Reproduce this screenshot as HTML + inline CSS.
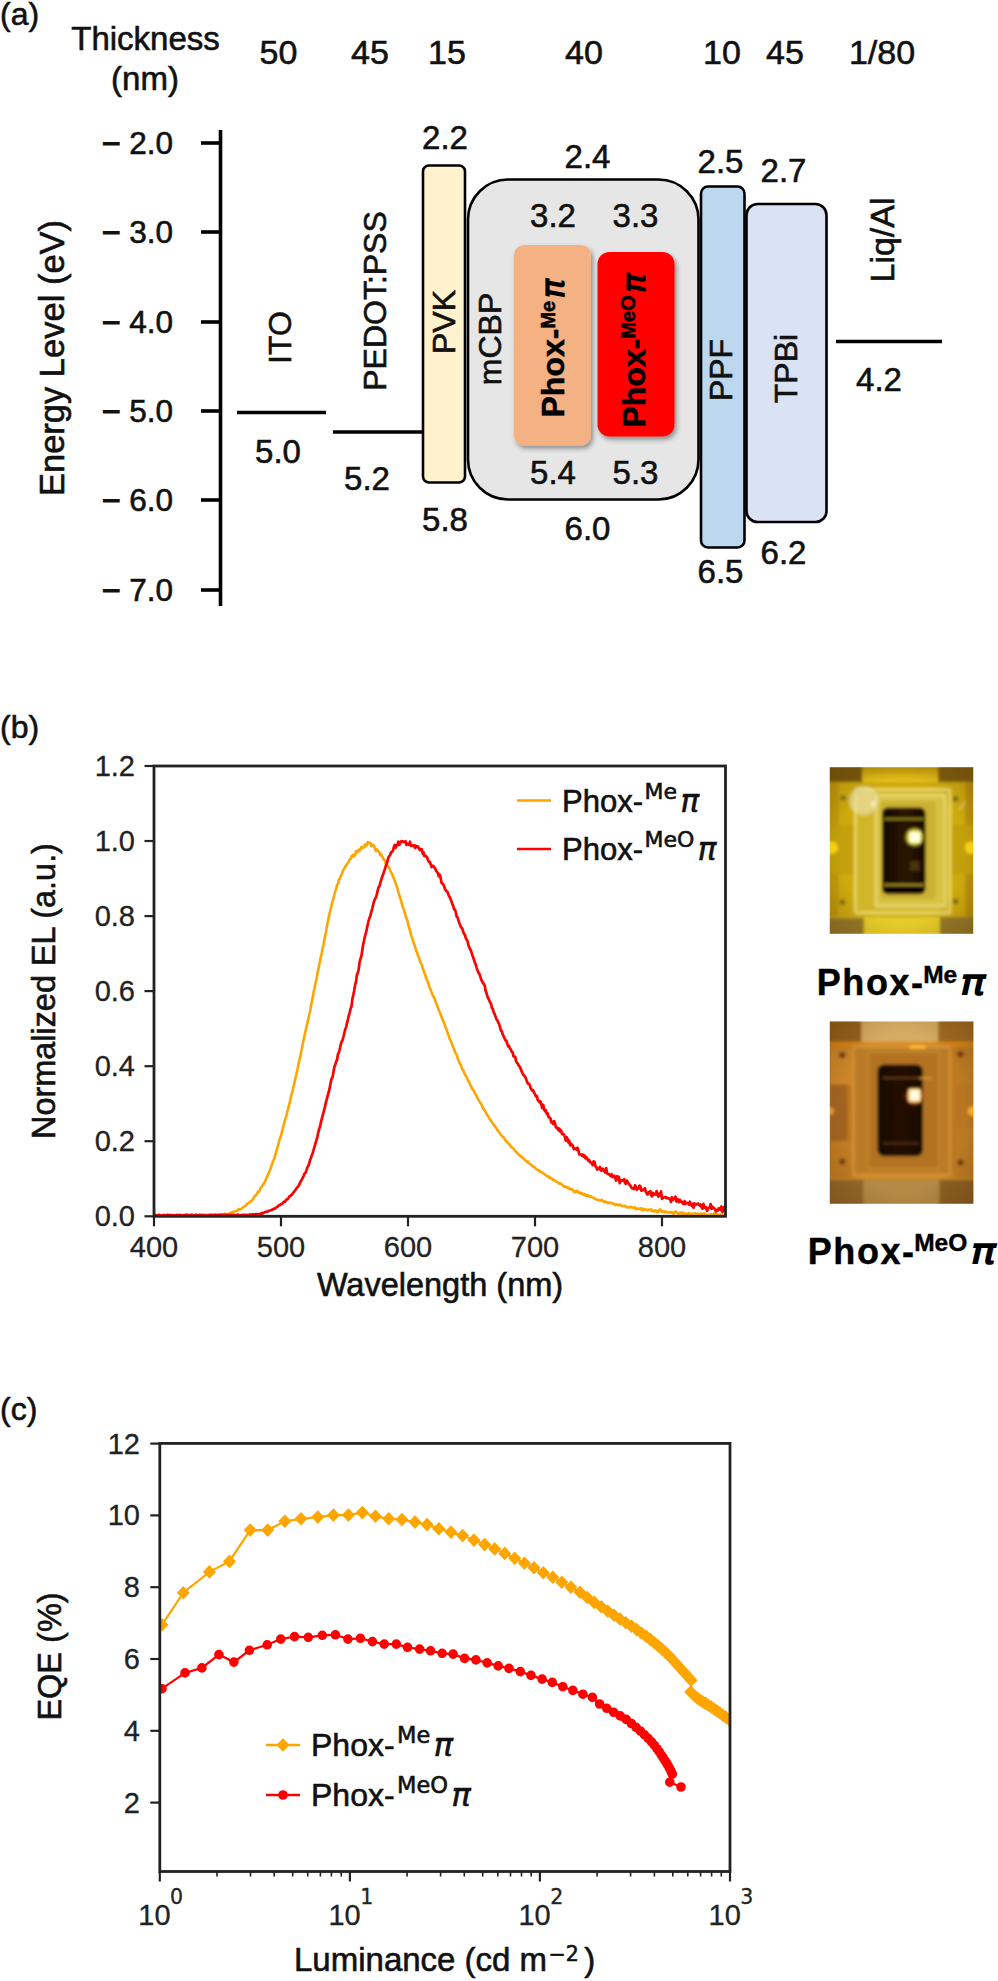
<!DOCTYPE html>
<html lang="en"><head><meta charset="utf-8"><title>Figure</title>
<style>html,body{margin:0;padding:0;background:#fff}svg{display:block}text{font-family:"Liberation Sans",Arial,sans-serif;fill:#111;stroke:#111;stroke-width:0.6px}.dj{font-family:"DejaVu Sans",sans-serif}.pi{font-family:"DejaVu Sans",sans-serif;font-style:italic}.b{font-weight:bold}.tk{stroke-width:0.3px;fill:#222;stroke:#222}</style></head><body>
<svg width="998" height="1981" viewBox="0 0 998 1981">
<defs><filter id="sh" x="-20%" y="-10%" width="150%" height="125%"><feGaussianBlur in="SourceAlpha" stdDeviation="2.5"/><feOffset dx="2" dy="2.5"/><feComponentTransfer><feFuncA type="linear" slope="0.4"/></feComponentTransfer><feMerge><feMergeNode/><feMergeNode in="SourceGraphic"/></feMerge></filter><filter id="bl1" x="-10%" y="-10%" width="120%" height="120%"><feGaussianBlur stdDeviation="1.5"/></filter><filter id="bl2" x="-30%" y="-30%" width="160%" height="160%"><feGaussianBlur stdDeviation="2.5"/></filter><filter id="soft"><feGaussianBlur stdDeviation="0.5"/></filter></defs>
<rect width="998" height="1981" fill="#fff"/>
<text x="0" y="24.5" font-size="32" text-anchor="start">(a)</text>
<text x="145.5" y="50" font-size="33" text-anchor="middle">Thickness</text>
<text x="145" y="90" font-size="33" text-anchor="middle">(nm)</text>
<text x="278.5" y="64" font-size="34" text-anchor="middle">50</text>
<text x="370" y="64" font-size="34" text-anchor="middle">45</text>
<text x="447" y="64" font-size="34" text-anchor="middle">15</text>
<text x="584" y="64" font-size="34" text-anchor="middle">40</text>
<text x="722" y="64" font-size="34" text-anchor="middle">10</text>
<text x="785" y="64" font-size="34" text-anchor="middle">45</text>
<text x="882" y="64" font-size="34" text-anchor="middle">1/80</text>
<g stroke="#000" stroke-width="3.6" fill="none">
<line x1="220.5" y1="130" x2="220.5" y2="606"/>
<line x1="201" y1="143" x2="220" y2="143"/>
<line x1="201" y1="232" x2="220" y2="232"/>
<line x1="201" y1="322" x2="220" y2="322"/>
<line x1="201" y1="411" x2="220" y2="411"/>
<line x1="201" y1="500" x2="220" y2="500"/>
<line x1="201" y1="590" x2="220" y2="590"/>
<line x1="237" y1="412.5" x2="326" y2="412.5"/>
<line x1="333" y1="432" x2="423" y2="432"/>
<line x1="836" y1="341.5" x2="942" y2="341.5"/>
</g>
<text x="173" y="154" font-size="31.5" text-anchor="end"><tspan style="stroke-width:1.5px">−</tspan> 2.0</text>
<text x="173" y="243" font-size="31.5" text-anchor="end"><tspan style="stroke-width:1.5px">−</tspan> 3.0</text>
<text x="173" y="333" font-size="31.5" text-anchor="end"><tspan style="stroke-width:1.5px">−</tspan> 4.0</text>
<text x="173" y="422" font-size="31.5" text-anchor="end"><tspan style="stroke-width:1.5px">−</tspan> 5.0</text>
<text x="173" y="511" font-size="31.5" text-anchor="end"><tspan style="stroke-width:1.5px">−</tspan> 6.0</text>
<text x="173" y="601" font-size="31.5" text-anchor="end"><tspan style="stroke-width:1.5px">−</tspan> 7.0</text>
<text transform="translate(64 358) rotate(-90)" font-size="34.5" text-anchor="middle">Energy Level (eV)</text>
<g stroke="#000" stroke-width="2.6">
<rect x="468" y="179.5" width="230.5" height="320" rx="40" fill="#e7e6e6"/>
<rect x="423" y="165.5" width="42" height="317" rx="6" fill="#fff2cc"/>
<rect x="701" y="186.5" width="43.5" height="361" rx="7" fill="#bdd7ee"/>
<rect x="746.5" y="204" width="80" height="318" rx="11" fill="#dae3f3"/>
</g>
<rect x="514" y="245" width="77" height="200.5" rx="10" fill="#f4b183" filter="url(#sh)"/>
<rect x="597.5" y="252" width="77" height="184.5" rx="12" fill="#ff0000" filter="url(#sh)"/>
<text x="445" y="148.5" font-size="33" text-anchor="middle">2.2</text>
<text x="587.5" y="168" font-size="33" text-anchor="middle">2.4</text>
<text x="720.5" y="172.5" font-size="33" text-anchor="middle">2.5</text>
<text x="783.5" y="181.5" font-size="33" text-anchor="middle">2.7</text>
<text x="553" y="226.5" font-size="33" text-anchor="middle">3.2</text>
<text x="635.5" y="226.5" font-size="33" text-anchor="middle">3.3</text>
<text x="553" y="484" font-size="33" text-anchor="middle">5.4</text>
<text x="635.5" y="484" font-size="33" text-anchor="middle">5.3</text>
<text x="587.5" y="539.5" font-size="33" text-anchor="middle">6.0</text>
<text x="445" y="530.5" font-size="33" text-anchor="middle">5.8</text>
<text x="720.5" y="583" font-size="33" text-anchor="middle">6.5</text>
<text x="783.5" y="563.5" font-size="33" text-anchor="middle">6.2</text>
<text x="278" y="463" font-size="33" text-anchor="middle">5.0</text>
<text x="367" y="489.5" font-size="33" text-anchor="middle">5.2</text>
<text x="879" y="391" font-size="33" text-anchor="middle">4.2</text>
<text transform="translate(291 337.5) rotate(-90)" font-size="32" text-anchor="middle">ITO</text>
<text transform="translate(386 301) rotate(-90)" font-size="32" text-anchor="middle">PEDOT:PSS</text>
<text transform="translate(455 322) rotate(-90)" font-size="32" text-anchor="middle">PVK</text>
<text transform="translate(501 339) rotate(-90)" font-size="32" text-anchor="middle">mCBP</text>
<text transform="translate(732 370) rotate(-90)" font-size="32" text-anchor="middle">PPF</text>
<text transform="translate(797 368.5) rotate(-90)" font-size="32" text-anchor="middle">TPBi</text>
<text transform="translate(893.5 240) rotate(-90)" font-size="34" text-anchor="middle">Liq/Al</text>
<text transform="translate(564 417.5) rotate(-90)" font-size="32" class="b" style="fill:#000;stroke:#000;stroke-width:0.5px">Phox-<tspan font-size="20" dy="-9.5">Me</tspan><tspan class="pi" font-size="32" dy="9.5" dx="2.5" style="font-weight:normal;stroke-width:1.3px">π</tspan></text>
<text transform="translate(644.5 427.5) rotate(-90)" font-size="32" class="b" style="fill:#000;stroke:#000;stroke-width:0.5px">Phox-<tspan font-size="20" dy="-9.5">MeO</tspan><tspan class="pi" font-size="32" dy="9.5" dx="2.5" style="font-weight:normal;stroke-width:1.3px">π</tspan></text>
<text x="0" y="737.5" font-size="32" text-anchor="start">(b)</text>
<clipPath id="cb"><rect x="154" y="766" width="571.5" height="451.29999999999995"/></clipPath>
<path d="M153.5 1215.7 L154.4 1214.4 L155.3 1215.4 L156.2 1215.1 L157.1 1215.1 L158.0 1215.2 L158.9 1214.6 L159.8 1215.2 L160.7 1215.0 L161.6 1215.7 L162.5 1215.4 L163.4 1215.2 L164.3 1215.2 L165.2 1215.1 L166.1 1214.9 L167.0 1215.2 L167.9 1215.5 L168.8 1215.2 L169.7 1215.6 L170.6 1215.2 L171.5 1215.3 L172.4 1215.7 L173.3 1215.5 L174.2 1215.1 L175.1 1215.2 L176.0 1215.5 L176.9 1215.7 L177.8 1215.2 L178.7 1215.2 L179.6 1215.6 L180.5 1215.0 L181.4 1215.2 L182.3 1215.6 L183.2 1215.5 L184.1 1215.3 L185.0 1215.5 L185.9 1214.3 L186.8 1215.6 L187.7 1214.9 L188.6 1214.7 L189.5 1215.3 L190.4 1215.5 L191.3 1215.1 L192.2 1214.9 L193.1 1215.2 L194.0 1215.2 L194.9 1215.7 L195.8 1215.5 L196.7 1215.3 L197.6 1215.6 L198.5 1215.1 L199.4 1214.9 L200.3 1215.4 L201.2 1215.4 L202.1 1215.1 L203.0 1214.9 L203.9 1215.2 L204.8 1214.3 L205.7 1215.4 L206.6 1215.3 L207.5 1214.5 L208.4 1215.1 L209.3 1214.7 L210.2 1215.3 L211.1 1214.3 L212.0 1214.6 L212.9 1215.2 L213.8 1215.3 L214.7 1214.1 L215.6 1214.6 L216.5 1214.9 L217.4 1214.5 L218.3 1215.2 L219.2 1214.2 L220.1 1214.7 L221.0 1214.1 L221.9 1214.9 L222.8 1214.4 L223.7 1214.2 L224.6 1213.6 L225.5 1214.7 L226.4 1214.3 L227.3 1214.2 L228.2 1214.1 L229.1 1213.6 L230.0 1213.0 L230.9 1212.7 L231.8 1212.4 L232.7 1212.8 L233.6 1211.5 L234.5 1211.5 L235.4 1211.2 L236.3 1211.0 L237.2 1210.8 L238.1 1209.7 L239.0 1209.1 L239.9 1209.3 L240.8 1209.2 L241.7 1208.5 L242.6 1207.7 L243.5 1206.9 L244.4 1206.5 L245.3 1205.6 L246.2 1205.3 L247.1 1203.9 L248.0 1203.5 L248.9 1202.6 L249.8 1202.1 L250.7 1201.1 L251.6 1201.1 L252.5 1199.8 L253.4 1198.8 L254.3 1196.5 L255.2 1196.0 L256.1 1194.8 L257.0 1194.0 L257.9 1191.8 L258.8 1191.7 L259.7 1190.4 L260.6 1188.2 L261.5 1186.9 L262.4 1185.5 L263.3 1184.2 L264.2 1182.8 L265.1 1181.5 L266.0 1178.9 L266.9 1177.2 L267.8 1175.0 L268.7 1173.4 L269.6 1170.9 L270.5 1168.8 L271.4 1165.6 L272.3 1163.5 L273.2 1160.8 L274.1 1159.0 L275.0 1155.9 L275.9 1152.6 L276.8 1149.5 L277.7 1146.7 L278.6 1143.2 L279.5 1139.9 L280.4 1137.3 L281.3 1134.8 L282.2 1130.6 L283.1 1127.3 L284.0 1123.8 L284.9 1120.4 L285.8 1117.6 L286.7 1114.3 L287.6 1110.6 L288.5 1107.2 L289.4 1103.6 L290.3 1100.1 L291.2 1095.9 L292.1 1092.6 L293.0 1089.1 L293.9 1084.9 L294.8 1081.1 L295.7 1077.0 L296.6 1073.0 L297.5 1069.3 L298.4 1064.6 L299.3 1060.5 L300.2 1056.6 L301.1 1052.3 L302.0 1048.3 L302.9 1042.7 L303.8 1039.4 L304.7 1034.7 L305.6 1030.7 L306.5 1026.9 L307.4 1023.1 L308.3 1019.1 L309.2 1014.7 L310.1 1011.0 L311.0 1005.9 L311.9 1001.2 L312.8 996.8 L313.7 991.6 L314.6 988.1 L315.5 983.3 L316.4 979.3 L317.3 974.2 L318.2 969.8 L319.1 965.7 L320.0 961.5 L320.9 956.7 L321.8 952.6 L322.7 948.0 L323.6 944.2 L324.5 938.9 L325.4 935.1 L326.3 929.9 L327.2 925.0 L328.1 920.4 L329.0 915.7 L329.9 912.0 L330.8 908.5 L331.7 904.5 L332.6 901.2 L333.5 898.3 L334.4 894.5 L335.3 891.5 L336.2 888.4 L337.1 885.0 L338.0 883.6 L338.9 879.7 L339.8 878.7 L340.7 876.0 L341.6 874.7 L342.5 872.0 L343.4 869.7 L344.3 868.8 L345.2 866.6 L346.1 865.4 L347.0 864.2 L347.9 862.7 L348.8 861.4 L349.7 859.6 L350.6 859.0 L351.5 856.0 L352.4 856.8 L353.3 854.7 L354.2 856.1 L355.1 855.4 L356.0 851.0 L356.9 852.5 L357.8 851.5 L358.7 849.7 L359.6 851.0 L360.5 849.1 L361.4 846.9 L362.3 848.1 L363.2 847.6 L364.1 847.1 L365.0 844.5 L365.9 845.9 L366.8 845.2 L367.7 842.2 L368.6 842.5 L369.5 843.1 L370.4 842.9 L371.3 846.2 L372.2 845.2 L373.1 844.8 L374.0 846.0 L374.9 847.8 L375.8 851.1 L376.7 849.3 L377.6 850.4 L378.5 851.6 L379.4 852.1 L380.3 855.2 L381.2 854.0 L382.1 856.6 L383.0 857.7 L383.9 859.7 L384.8 860.1 L385.7 863.8 L386.6 864.0 L387.5 865.6 L388.4 866.5 L389.3 868.1 L390.2 870.4 L391.1 872.3 L392.0 874.0 L392.9 876.3 L393.8 878.3 L394.7 880.4 L395.6 883.4 L396.5 885.9 L397.4 888.3 L398.3 891.7 L399.2 895.0 L400.1 897.7 L401.0 900.5 L401.9 903.8 L402.8 907.1 L403.7 909.2 L404.6 912.0 L405.5 914.9 L406.4 918.3 L407.3 920.2 L408.2 924.1 L409.1 927.7 L410.0 930.2 L410.9 934.3 L411.8 937.1 L412.7 939.7 L413.6 942.8 L414.5 944.9 L415.4 947.8 L416.3 951.2 L417.2 952.7 L418.1 956.1 L419.0 957.9 L419.9 960.7 L420.8 962.9 L421.7 964.6 L422.6 967.8 L423.5 970.6 L424.4 972.7 L425.3 975.2 L426.2 978.3 L427.1 980.4 L428.0 982.4 L428.9 985.1 L429.8 987.9 L430.7 989.7 L431.6 992.4 L432.5 994.8 L433.4 996.4 L434.3 998.2 L435.2 1000.3 L436.1 1003.0 L437.0 1005.6 L437.9 1007.7 L438.8 1010.1 L439.7 1012.0 L440.6 1014.6 L441.5 1016.6 L442.4 1019.0 L443.3 1021.0 L444.2 1023.2 L445.1 1025.9 L446.0 1028.1 L446.9 1030.5 L447.8 1033.4 L448.7 1035.5 L449.6 1038.9 L450.5 1040.5 L451.4 1042.2 L452.3 1045.0 L453.2 1047.2 L454.1 1049.1 L455.0 1052.0 L455.9 1053.6 L456.8 1055.1 L457.7 1058.6 L458.6 1060.3 L459.5 1063.1 L460.4 1064.3 L461.3 1066.1 L462.2 1069.0 L463.1 1069.9 L464.0 1072.2 L464.9 1074.5 L465.8 1075.8 L466.7 1077.6 L467.6 1079.4 L468.5 1081.4 L469.4 1082.6 L470.3 1084.8 L471.2 1086.5 L472.1 1088.8 L473.0 1089.6 L473.9 1091.0 L474.8 1093.2 L475.7 1094.5 L476.6 1096.4 L477.5 1098.0 L478.4 1100.0 L479.3 1101.0 L480.2 1102.8 L481.1 1103.6 L482.0 1105.8 L482.9 1108.3 L483.8 1109.1 L484.7 1110.6 L485.6 1111.9 L486.5 1114.0 L487.4 1115.3 L488.3 1116.2 L489.2 1118.3 L490.1 1119.5 L491.0 1121.0 L491.9 1121.9 L492.8 1124.0 L493.7 1124.8 L494.6 1125.9 L495.5 1127.0 L496.4 1128.4 L497.3 1130.0 L498.2 1130.8 L499.1 1132.5 L500.0 1133.5 L500.9 1134.9 L501.8 1135.9 L502.7 1136.8 L503.6 1137.2 L504.5 1139.1 L505.4 1140.4 L506.3 1141.2 L507.2 1142.4 L508.1 1143.0 L509.0 1144.1 L509.9 1144.8 L510.8 1146.6 L511.7 1147.2 L512.6 1147.9 L513.5 1148.5 L514.4 1149.8 L515.3 1151.3 L516.2 1151.8 L517.1 1152.3 L518.0 1153.9 L518.9 1154.7 L519.8 1155.4 L520.7 1156.2 L521.6 1157.1 L522.5 1157.7 L523.4 1158.6 L524.3 1158.8 L525.2 1160.4 L526.1 1160.7 L527.0 1162.1 L527.9 1161.4 L528.8 1163.1 L529.7 1163.9 L530.6 1164.2 L531.5 1165.2 L532.4 1166.0 L533.3 1166.6 L534.2 1166.9 L535.1 1167.7 L536.0 1168.8 L536.9 1169.5 L537.8 1169.8 L538.7 1170.4 L539.6 1171.1 L540.5 1172.0 L541.4 1171.9 L542.3 1172.4 L543.2 1173.5 L544.1 1173.7 L545.0 1174.5 L545.9 1175.3 L546.8 1176.0 L547.7 1176.1 L548.6 1177.3 L549.5 1176.9 L550.4 1178.3 L551.3 1178.1 L552.2 1178.8 L553.1 1180.0 L554.0 1180.1 L554.9 1180.5 L555.8 1181.1 L556.7 1182.0 L557.6 1182.3 L558.5 1182.8 L559.4 1183.7 L560.3 1183.3 L561.2 1184.0 L562.1 1184.4 L563.0 1185.9 L563.9 1186.2 L564.8 1186.9 L565.7 1186.5 L566.6 1186.9 L567.5 1188.0 L568.4 1187.6 L569.3 1188.8 L570.2 1189.2 L571.1 1188.8 L572.0 1189.5 L572.9 1189.9 L573.8 1191.5 L574.7 1192.4 L575.6 1191.2 L576.5 1191.6 L577.4 1190.6 L578.3 1192.5 L579.2 1192.8 L580.1 1192.5 L581.0 1193.9 L581.9 1192.9 L582.8 1194.0 L583.7 1194.6 L584.6 1194.1 L585.5 1195.7 L586.4 1196.1 L587.3 1194.9 L588.2 1195.2 L589.1 1196.7 L590.0 1196.7 L590.9 1196.3 L591.8 1197.1 L592.7 1197.5 L593.6 1197.8 L594.5 1198.6 L595.4 1198.7 L596.3 1199.8 L597.2 1199.8 L598.1 1199.7 L599.0 1200.2 L599.9 1200.6 L600.8 1200.5 L601.7 1199.7 L602.6 1201.2 L603.5 1201.0 L604.4 1202.2 L605.3 1201.5 L606.2 1202.0 L607.1 1202.2 L608.0 1203.2 L608.9 1202.6 L609.8 1202.5 L610.7 1203.1 L611.6 1202.9 L612.5 1203.5 L613.4 1203.6 L614.3 1204.0 L615.2 1205.3 L616.1 1204.1 L617.0 1204.6 L617.9 1204.7 L618.8 1205.4 L619.7 1204.5 L620.6 1205.0 L621.5 1205.6 L622.4 1206.1 L623.3 1206.0 L624.2 1205.9 L625.1 1205.8 L626.0 1206.8 L626.9 1207.5 L627.8 1207.0 L628.7 1207.1 L629.6 1207.4 L630.5 1206.7 L631.4 1207.3 L632.3 1207.4 L633.2 1207.9 L634.1 1207.9 L635.0 1207.3 L635.9 1208.8 L636.8 1209.3 L637.7 1208.3 L638.6 1208.8 L639.5 1208.9 L640.4 1209.3 L641.3 1208.1 L642.2 1210.1 L643.1 1208.9 L644.0 1210.1 L644.9 1209.5 L645.8 1209.4 L646.7 1209.7 L647.6 1210.4 L648.5 1209.5 L649.4 1209.9 L650.3 1209.9 L651.2 1209.3 L652.1 1211.2 L653.0 1210.9 L653.9 1210.6 L654.8 1211.5 L655.7 1210.3 L656.6 1210.9 L657.5 1212.1 L658.4 1211.7 L659.3 1209.9 L660.2 1209.3 L661.1 1210.8 L662.0 1212.1 L662.9 1211.3 L663.8 1211.6 L664.7 1212.1 L665.6 1211.3 L666.5 1212.1 L667.4 1212.5 L668.3 1212.4 L669.2 1212.4 L670.1 1211.9 L671.0 1212.6 L671.9 1212.1 L672.8 1213.2 L673.7 1214.1 L674.6 1212.1 L675.5 1211.4 L676.4 1212.5 L677.3 1213.0 L678.2 1213.5 L679.1 1213.6 L680.0 1212.5 L680.9 1212.6 L681.8 1213.9 L682.7 1212.5 L683.6 1213.9 L684.5 1213.1 L685.4 1213.8 L686.3 1213.8 L687.2 1213.9 L688.1 1214.0 L689.0 1212.9 L689.9 1213.8 L690.8 1213.7 L691.7 1213.9 L692.6 1214.5 L693.5 1213.6 L694.4 1213.4 L695.3 1213.5 L696.2 1213.8 L697.1 1214.5 L698.0 1213.6 L698.9 1214.8 L699.8 1214.3 L700.7 1214.1 L701.6 1213.4 L702.5 1214.4 L703.4 1214.7 L704.3 1213.3 L705.2 1215.1 L706.1 1215.4 L707.0 1214.6 L707.9 1214.8 L708.8 1215.7 L709.7 1215.3 L710.6 1214.0 L711.5 1214.6 L712.4 1214.5 L713.3 1214.6 L714.2 1213.3 L715.1 1215.1 L716.0 1214.3 L716.9 1214.8 L717.8 1214.7 L718.7 1215.3 L719.6 1214.6 L720.5 1214.3 L721.4 1215.2 L722.3 1215.7 L723.2 1214.7 L724.1 1215.7 L725.0 1215.1" fill="none" stroke="#ffa500" stroke-width="2.6" stroke-linejoin="round" clip-path="url(#cb)"/>
<path d="M153.5 1215.1 L154.4 1214.9 L155.3 1215.2 L156.2 1215.4 L157.1 1215.6 L158.0 1215.3 L158.9 1215.1 L159.8 1215.1 L160.7 1215.5 L161.6 1215.7 L162.5 1215.4 L163.4 1214.9 L164.3 1215.0 L165.2 1215.7 L166.1 1215.4 L167.0 1214.8 L167.9 1215.3 L168.8 1214.9 L169.7 1215.1 L170.6 1215.2 L171.5 1215.1 L172.4 1215.5 L173.3 1215.3 L174.2 1215.1 L175.1 1215.4 L176.0 1215.5 L176.9 1214.8 L177.8 1215.2 L178.7 1215.0 L179.6 1215.2 L180.5 1214.9 L181.4 1215.3 L182.3 1215.3 L183.2 1215.2 L184.1 1215.0 L185.0 1215.2 L185.9 1215.0 L186.8 1214.9 L187.7 1215.4 L188.6 1215.0 L189.5 1215.6 L190.4 1215.5 L191.3 1214.7 L192.2 1215.4 L193.1 1215.0 L194.0 1215.3 L194.9 1215.3 L195.8 1214.7 L196.7 1215.2 L197.6 1215.2 L198.5 1215.6 L199.4 1214.9 L200.3 1215.5 L201.2 1214.9 L202.1 1215.2 L203.0 1215.0 L203.9 1215.7 L204.8 1215.4 L205.7 1215.7 L206.6 1215.5 L207.5 1215.5 L208.4 1215.5 L209.3 1215.1 L210.2 1215.2 L211.1 1215.7 L212.0 1215.1 L212.9 1215.3 L213.8 1215.2 L214.7 1215.4 L215.6 1215.1 L216.5 1215.2 L217.4 1215.3 L218.3 1215.3 L219.2 1215.0 L220.1 1215.5 L221.0 1214.8 L221.9 1214.9 L222.8 1214.8 L223.7 1215.5 L224.6 1215.1 L225.5 1214.9 L226.4 1214.9 L227.3 1215.3 L228.2 1214.9 L229.1 1214.8 L230.0 1215.4 L230.9 1214.9 L231.8 1215.1 L232.7 1215.2 L233.6 1215.1 L234.5 1215.2 L235.4 1215.6 L236.3 1215.0 L237.2 1214.8 L238.1 1214.6 L239.0 1215.1 L239.9 1215.0 L240.8 1215.2 L241.7 1215.0 L242.6 1214.9 L243.5 1214.8 L244.4 1214.8 L245.3 1215.0 L246.2 1214.8 L247.1 1214.9 L248.0 1215.4 L248.9 1214.9 L249.8 1214.3 L250.7 1215.2 L251.6 1214.7 L252.5 1214.3 L253.4 1214.8 L254.3 1214.5 L255.2 1214.2 L256.1 1214.1 L257.0 1214.0 L257.9 1214.2 L258.8 1214.4 L259.7 1213.8 L260.6 1213.9 L261.5 1214.1 L262.4 1212.9 L263.3 1213.1 L264.2 1212.6 L265.1 1212.0 L266.0 1211.7 L266.9 1211.7 L267.8 1211.5 L268.7 1210.8 L269.6 1210.6 L270.5 1210.5 L271.4 1209.9 L272.3 1209.7 L273.2 1209.1 L274.1 1208.7 L275.0 1208.6 L275.9 1207.7 L276.8 1207.0 L277.7 1206.6 L278.6 1205.5 L279.5 1205.1 L280.4 1204.8 L281.3 1204.1 L282.2 1203.7 L283.1 1202.6 L284.0 1201.5 L284.9 1201.8 L285.8 1200.7 L286.7 1199.3 L287.6 1199.2 L288.5 1197.9 L289.4 1196.5 L290.3 1196.0 L291.2 1195.0 L292.1 1194.6 L293.0 1192.9 L293.9 1192.0 L294.8 1190.8 L295.7 1189.6 L296.6 1188.2 L297.5 1187.2 L298.4 1186.1 L299.3 1184.4 L300.2 1182.4 L301.1 1180.7 L302.0 1179.4 L302.9 1177.3 L303.8 1175.5 L304.7 1173.4 L305.6 1172.5 L306.5 1170.2 L307.4 1167.4 L308.3 1165.7 L309.2 1163.4 L310.1 1159.8 L311.0 1157.8 L311.9 1155.1 L312.8 1152.7 L313.7 1149.5 L314.6 1146.4 L315.5 1143.2 L316.4 1140.4 L317.3 1137.1 L318.2 1132.8 L319.1 1129.2 L320.0 1126.8 L320.9 1122.2 L321.8 1118.9 L322.7 1115.5 L323.6 1112.1 L324.5 1108.7 L325.4 1104.9 L326.3 1100.9 L327.2 1097.7 L328.1 1094.1 L329.0 1090.9 L329.9 1086.7 L330.8 1081.9 L331.7 1078.5 L332.6 1077.1 L333.5 1071.7 L334.4 1066.7 L335.3 1064.6 L336.2 1061.7 L337.1 1059.4 L338.0 1054.1 L338.9 1052.3 L339.8 1049.2 L340.7 1044.6 L341.6 1041.8 L342.5 1040.3 L343.4 1037.0 L344.3 1033.0 L345.2 1029.5 L346.1 1027.1 L347.0 1022.9 L347.9 1019.6 L348.8 1015.5 L349.7 1012.6 L350.6 1008.5 L351.5 1006.4 L352.4 998.6 L353.3 995.0 L354.2 990.5 L355.1 984.9 L356.0 982.0 L356.9 974.9 L357.8 972.9 L358.7 969.4 L359.6 962.1 L360.5 958.7 L361.4 956.0 L362.3 950.0 L363.2 944.5 L364.1 940.5 L365.0 936.1 L365.9 933.2 L366.8 929.1 L367.7 924.7 L368.6 920.7 L369.5 917.8 L370.4 915.7 L371.3 911.6 L372.2 908.8 L373.1 905.1 L374.0 901.2 L374.9 899.1 L375.8 897.8 L376.7 894.6 L377.6 890.9 L378.5 887.4 L379.4 886.3 L380.3 882.9 L381.2 880.0 L382.1 877.1 L383.0 874.8 L383.9 871.8 L384.8 869.4 L385.7 866.3 L386.6 864.0 L387.5 861.0 L388.4 857.7 L389.3 856.0 L390.2 854.8 L391.1 852.2 L392.0 851.6 L392.9 850.9 L393.8 847.3 L394.7 844.9 L395.6 847.7 L396.5 845.2 L397.4 845.2 L398.3 841.7 L399.2 844.9 L400.1 843.1 L401.0 841.5 L401.9 841.1 L402.8 841.8 L403.7 841.7 L404.6 841.9 L405.5 841.1 L406.4 844.9 L407.3 843.6 L408.2 844.2 L409.1 844.7 L410.0 841.7 L410.9 846.0 L411.8 845.2 L412.7 845.5 L413.6 846.3 L414.5 845.1 L415.4 848.0 L416.3 846.2 L417.2 846.3 L418.1 846.8 L419.0 848.7 L419.9 850.1 L420.8 849.2 L421.7 849.1 L422.6 853.6 L423.5 852.1 L424.4 856.2 L425.3 855.8 L426.2 856.2 L427.1 857.5 L428.0 860.0 L428.9 861.8 L429.8 861.8 L430.7 864.4 L431.6 867.0 L432.5 865.7 L433.4 866.0 L434.3 867.5 L435.2 868.5 L436.1 870.8 L437.0 872.1 L437.9 873.0 L438.8 876.4 L439.7 874.7 L440.6 877.7 L441.5 882.7 L442.4 883.4 L443.3 884.6 L444.2 886.4 L445.1 889.5 L446.0 890.2 L446.9 891.7 L447.8 892.4 L448.7 895.5 L449.6 896.9 L450.5 899.0 L451.4 901.2 L452.3 904.0 L453.2 905.9 L454.1 909.3 L455.0 909.5 L455.9 912.8 L456.8 917.0 L457.7 917.6 L458.6 921.0 L459.5 923.4 L460.4 925.9 L461.3 927.7 L462.2 928.2 L463.1 931.5 L464.0 933.7 L464.9 934.9 L465.8 938.1 L466.7 939.6 L467.6 941.5 L468.5 945.5 L469.4 947.6 L470.3 949.3 L471.2 951.5 L472.1 954.4 L473.0 957.0 L473.9 959.5 L474.8 962.3 L475.7 964.5 L476.6 967.7 L477.5 970.2 L478.4 972.4 L479.3 973.8 L480.2 976.2 L481.1 979.3 L482.0 981.0 L482.9 983.4 L483.8 983.5 L484.7 985.6 L485.6 990.7 L486.5 993.0 L487.4 996.4 L488.3 998.3 L489.2 1000.3 L490.1 1002.5 L491.0 1003.6 L491.9 1008.0 L492.8 1008.9 L493.7 1012.2 L494.6 1014.1 L495.5 1016.4 L496.4 1019.2 L497.3 1020.1 L498.2 1022.4 L499.1 1024.1 L500.0 1026.7 L500.9 1030.7 L501.8 1031.0 L502.7 1034.5 L503.6 1036.2 L504.5 1038.2 L505.4 1040.2 L506.3 1040.5 L507.2 1043.6 L508.1 1046.4 L509.0 1046.0 L509.9 1048.3 L510.8 1049.3 L511.7 1051.9 L512.6 1052.3 L513.5 1056.4 L514.4 1056.3 L515.3 1057.0 L516.2 1061.7 L517.1 1062.8 L518.0 1064.1 L518.9 1065.9 L519.8 1066.8 L520.7 1068.7 L521.6 1071.2 L522.5 1073.1 L523.4 1074.8 L524.3 1075.8 L525.2 1076.9 L526.1 1078.8 L527.0 1081.6 L527.9 1083.6 L528.8 1083.6 L529.7 1085.0 L530.6 1088.2 L531.5 1089.3 L532.4 1090.8 L533.3 1090.5 L534.2 1092.9 L535.1 1094.2 L536.0 1096.4 L536.9 1096.1 L537.8 1100.2 L538.7 1100.7 L539.6 1102.3 L540.5 1101.4 L541.4 1104.6 L542.3 1108.2 L543.2 1104.9 L544.1 1109.2 L545.0 1111.2 L545.9 1110.3 L546.8 1114.0 L547.7 1113.5 L548.6 1117.3 L549.5 1117.4 L550.4 1118.3 L551.3 1122.4 L552.2 1121.8 L553.1 1123.8 L554.0 1121.1 L554.9 1123.2 L555.8 1126.8 L556.7 1128.2 L557.6 1127.8 L558.5 1130.3 L559.4 1128.6 L560.3 1131.7 L561.2 1130.6 L562.1 1134.1 L563.0 1133.8 L563.9 1134.6 L564.8 1136.8 L565.7 1140.6 L566.6 1137.1 L567.5 1138.7 L568.4 1142.4 L569.3 1140.9 L570.2 1145.4 L571.1 1143.9 L572.0 1144.6 L572.9 1146.0 L573.8 1149.2 L574.7 1148.4 L575.6 1149.1 L576.5 1149.6 L577.4 1147.7 L578.3 1149.7 L579.2 1154.4 L580.1 1154.2 L581.0 1154.6 L581.9 1155.6 L582.8 1154.5 L583.7 1156.7 L584.6 1155.5 L585.5 1158.3 L586.4 1157.3 L587.3 1158.8 L588.2 1160.5 L589.1 1160.0 L590.0 1162.2 L590.9 1162.6 L591.8 1163.1 L592.7 1165.2 L593.6 1161.4 L594.5 1161.9 L595.4 1166.1 L596.3 1167.2 L597.2 1169.6 L598.1 1168.3 L599.0 1169.0 L599.9 1166.9 L600.8 1170.2 L601.7 1170.7 L602.6 1168.6 L603.5 1169.5 L604.4 1171.3 L605.3 1172.6 L606.2 1168.0 L607.1 1173.3 L608.0 1174.1 L608.9 1174.0 L609.8 1175.2 L610.7 1176.0 L611.6 1174.2 L612.5 1177.0 L613.4 1176.4 L614.3 1175.7 L615.2 1178.1 L616.1 1180.6 L617.0 1176.3 L617.9 1176.5 L618.8 1177.0 L619.7 1183.2 L620.6 1180.1 L621.5 1180.9 L622.4 1180.2 L623.3 1180.5 L624.2 1179.2 L625.1 1183.2 L626.0 1183.8 L626.9 1180.6 L627.8 1182.5 L628.7 1183.4 L629.6 1185.0 L630.5 1185.8 L631.4 1187.6 L632.3 1188.4 L633.2 1188.2 L634.1 1189.0 L635.0 1185.3 L635.9 1186.7 L636.8 1189.7 L637.7 1188.7 L638.6 1188.6 L639.5 1185.7 L640.4 1186.2 L641.3 1190.7 L642.2 1190.4 L643.1 1189.7 L644.0 1189.9 L644.9 1188.1 L645.8 1191.8 L646.7 1193.2 L647.6 1194.5 L648.5 1192.3 L649.4 1192.2 L650.3 1191.1 L651.2 1195.2 L652.1 1196.3 L653.0 1192.9 L653.9 1194.6 L654.8 1194.6 L655.7 1193.9 L656.6 1191.1 L657.5 1194.8 L658.4 1196.7 L659.3 1193.7 L660.2 1195.0 L661.1 1191.3 L662.0 1198.9 L662.9 1198.0 L663.8 1197.5 L664.7 1197.3 L665.6 1196.9 L666.5 1198.1 L667.4 1197.9 L668.3 1198.3 L669.2 1198.8 L670.1 1199.3 L671.0 1201.8 L671.9 1197.2 L672.8 1200.2 L673.7 1199.0 L674.6 1198.4 L675.5 1196.6 L676.4 1201.6 L677.3 1199.3 L678.2 1199.8 L679.1 1202.0 L680.0 1199.7 L680.9 1201.7 L681.8 1201.7 L682.7 1203.3 L683.6 1203.9 L684.5 1201.1 L685.4 1204.1 L686.3 1202.7 L687.2 1203.2 L688.1 1202.9 L689.0 1204.7 L689.9 1201.7 L690.8 1204.2 L691.7 1205.9 L692.6 1203.8 L693.5 1207.6 L694.4 1203.4 L695.3 1205.1 L696.2 1204.2 L697.1 1204.2 L698.0 1203.5 L698.9 1204.6 L699.8 1205.6 L700.7 1204.5 L701.6 1207.4 L702.5 1208.6 L703.4 1203.9 L704.3 1207.8 L705.2 1207.0 L706.1 1207.2 L707.0 1210.9 L707.9 1209.1 L708.8 1207.8 L709.7 1207.7 L710.6 1204.1 L711.5 1208.9 L712.4 1206.6 L713.3 1208.2 L714.2 1208.2 L715.1 1209.7 L716.0 1211.5 L716.9 1209.9 L717.8 1210.5 L718.7 1208.2 L719.6 1209.3 L720.5 1209.9 L721.4 1206.5 L722.3 1212.1 L723.2 1207.8 L724.1 1207.0 L725.0 1211.7" fill="none" stroke="#ff0000" stroke-width="2.7" stroke-linejoin="round" clip-path="url(#cb)"/>
<g stroke="#222" fill="none">
<rect x="154" y="766" width="571.5" height="450.29999999999995" stroke-width="2.8"/>
<g stroke-width="2.2">
<line x1="144.5" y1="1216.3" x2="154" y2="1216.3"/>
<line x1="144.5" y1="1141.2" x2="154" y2="1141.2"/>
<line x1="144.5" y1="1066.2" x2="154" y2="1066.2"/>
<line x1="144.5" y1="991.1" x2="154" y2="991.1"/>
<line x1="144.5" y1="916.1" x2="154" y2="916.1"/>
<line x1="144.5" y1="841.0" x2="154" y2="841.0"/>
<line x1="144.5" y1="766.0" x2="154" y2="766.0"/>
<line x1="154.0" y1="1216.3" x2="154.0" y2="1226.3"/>
<line x1="281.0" y1="1216.3" x2="281.0" y2="1226.3"/>
<line x1="408.0" y1="1216.3" x2="408.0" y2="1226.3"/>
<line x1="535.0" y1="1216.3" x2="535.0" y2="1226.3"/>
<line x1="662.0" y1="1216.3" x2="662.0" y2="1226.3"/>
</g></g>
<text x="135" y="1226.3" font-size="29" text-anchor="end" class="tk">0.0</text>
<text x="135" y="1151.2" font-size="29" text-anchor="end" class="tk">0.2</text>
<text x="135" y="1076.2" font-size="29" text-anchor="end" class="tk">0.4</text>
<text x="135" y="1001.1" font-size="29" text-anchor="end" class="tk">0.6</text>
<text x="135" y="926.1" font-size="29" text-anchor="end" class="tk">0.8</text>
<text x="135" y="851.0" font-size="29" text-anchor="end" class="tk">1.0</text>
<text x="135" y="776.0" font-size="29" text-anchor="end" class="tk">1.2</text>
<text x="154.0" y="1256.5" font-size="29" text-anchor="middle" class="tk">400</text>
<text x="281.0" y="1256.5" font-size="29" text-anchor="middle" class="tk">500</text>
<text x="408.0" y="1256.5" font-size="29" text-anchor="middle" class="tk">600</text>
<text x="535.0" y="1256.5" font-size="29" text-anchor="middle" class="tk">700</text>
<text x="662.0" y="1256.5" font-size="29" text-anchor="middle" class="tk">800</text>
<text x="440" y="1295.5" font-size="32.5" text-anchor="middle">Wavelength (nm)</text>
<text transform="translate(54.5 991) rotate(-90)" font-size="32.4" text-anchor="middle">Normalized EL (a.u.)</text>
<line x1="517" y1="800.5" x2="551" y2="800.5" stroke="#ffa500" stroke-width="2.4"/>
<line x1="517" y1="849" x2="551" y2="849" stroke="#ff0000" stroke-width="2.4"/>
<text x="562" y="811.5" font-size="31">Phox-<tspan class="dj" font-size="22.0" dy="-12.7" dx="1.5">Me</tspan><tspan class="pi" font-size="31" dy="12.7" dx="3.5">π</tspan></text>
<text x="562" y="860" font-size="31">Phox-<tspan class="dj" font-size="22.0" dy="-12.7" dx="1.5">MeO</tspan><tspan class="pi" font-size="31" dy="12.7" dx="3.5">π</tspan></text>
<defs><linearGradient id="p1top" x1="0" y1="0" x2="0" y2="1"><stop offset="0" stop-color="#b48a06"/><stop offset="1" stop-color="#e6c41c"/></linearGradient><linearGradient id="p1dev" x1="0" y1="0" x2="1" y2="0"><stop offset="0" stop-color="#120803"/><stop offset="0.55" stop-color="#2c1606"/><stop offset="1" stop-color="#170a03"/></linearGradient><radialGradient id="p1spot"><stop offset="0" stop-color="#ffffd8"/><stop offset="0.35" stop-color="#fdfb7a"/><stop offset="0.7" stop-color="#d8d018" stop-opacity="0.85"/><stop offset="1" stop-color="#8a7a08" stop-opacity="0"/></radialGradient><radialGradient id="vig1" cx="0.5" cy="0.5" r="0.75"><stop offset="0.55" stop-color="#5a3c00" stop-opacity="0"/><stop offset="1" stop-color="#5a3c00" stop-opacity="0.38"/></radialGradient><clipPath id="p1c"><rect x="829.8" y="767.3" width="143.4" height="166.4"/></clipPath></defs>
<g clip-path="url(#p1c)"><g filter="url(#bl1)">
<rect x="826.6" y="763.3" width="150.5" height="174.4" rx="0.0" fill="#caa40c"/>
<rect x="826.6" y="763.3" width="150.5" height="19.0" rx="0.0" fill="url(#p1top)"/>
<rect x="826.6" y="763.3" width="35.5" height="19.0" rx="0.0" fill="#76560c"/>
<rect x="938.2" y="763.3" width="38.9" height="19.0" rx="0.0" fill="#7a5a0e"/>
<rect x="826.6" y="917.1" width="150.5" height="20.7" rx="0.0" fill="#e6cc2c"/>
<rect x="826.6" y="917.9" width="37.2" height="19.8" rx="0.0" fill="#94782a"/>
<rect x="939.9" y="917.1" width="37.2" height="20.7" rx="0.0" fill="#94782a"/>
<rect x="834.1" y="782.3" width="134.8" height="134.8" rx="0.0" fill="#ceaa10"/>
<rect x="829.9" y="782.3" width="8.3" height="134.8" rx="0.0" fill="#c09a0a"/>
<rect x="965.5" y="782.3" width="11.6" height="134.8" rx="0.0" fill="#b89208"/>
<rect x="829.9" y="824.5" width="25.6" height="49.6" rx="0.0" fill="#c4a00e"/>
<rect x="950.6" y="824.5" width="26.5" height="49.6" rx="0.0" fill="#c4a00e"/>
<circle cx="831.6" cy="847.6" r="6.3" fill="#ffd814"/>
<circle cx="971.3" cy="847.6" r="6.3" fill="#ffd814"/>
<rect x="853.9" y="788.1" width="97.6" height="126.5" rx="2.3" fill="#e8d660"/>
<rect x="856.7" y="791.1" width="91.9" height="120.2" rx="1.7" fill="#d2b62c"/>
<rect x="874.6" y="793.9" width="71.4" height="113.6" rx="1.7" fill="#e6d66c"/>
<rect x="877.0" y="796.7" width="66.6" height="108.1" rx="1.3" fill="#d8c244"/>
<rect x="880.8" y="801.3" width="54.9" height="97.9" rx="1.3" fill="#ccb230"/>
<circle cx="863.8" cy="800.5" r="14.6" fill="#efe6b4" opacity="0.6"/>
<circle cx="861.3" cy="801.3" r="9.1" fill="#e6d68c" opacity="0.35"/>
<circle cx="872.9" cy="803.8" r="2.3" fill="#fff8d0" opacity="0.8"/>
<circle cx="843.1" cy="798.0" r="3.3" fill="#a88c14"/>
<circle cx="843.1" cy="798.0" r="1.8" fill="#6e5810"/>
<circle cx="955.6" cy="798.9" r="3.3" fill="#a88c14"/>
<circle cx="955.6" cy="798.9" r="1.8" fill="#6e5810"/>
<circle cx="842.3" cy="902.2" r="3.3" fill="#a88c14"/>
<circle cx="842.3" cy="902.2" r="1.8" fill="#6e5810"/>
<circle cx="955.6" cy="901.4" r="3.3" fill="#a88c14"/>
<circle cx="955.6" cy="901.4" r="1.8" fill="#6e5810"/>
<line x1="959.7" y1="809.6" x2="965.5" y2="801.3" stroke="#fff3a0" stroke-width="1" opacity="0.8"/>
<rect x="882.0" y="807.6" width="43.5" height="86.6" rx="5.6" fill="url(#p1dev)"/>
<rect x="883.7" y="817.9" width="40.8" height="2.6" rx="0.0" fill="#8a7a18"/>
<rect x="883.7" y="883.7" width="40.8" height="2.6" rx="0.0" fill="#9a8a1c"/>
<rect x="883.7" y="820.5" width="40.8" height="2.3" rx="0.0" fill="#0c0502"/>
<rect x="883.7" y="886.3" width="40.8" height="6.0" rx="1.7" fill="#0c0502"/>
<rect x="910.1" y="860.9" width="9.1" height="9.9" rx="0.0" fill="#4a300c"/>
<circle cx="914.6" cy="837.1" r="10.6" fill="url(#p1spot)"/>
<rect x="909.0" y="831.4" width="11.6" height="11.6" rx="1.0" fill="#ffffa8"/>
<rect x="910.6" y="833.1" width="8.6" height="8.3" rx="0.7" fill="#ffffe6"/>
</g><rect x="826.6" y="763.3" width="150.5" height="174.4" rx="0.0" fill="url(#vig1)"/></g>
<defs><linearGradient id="p2dev" x1="0" y1="0" x2="1" y2="0"><stop offset="0" stop-color="#140703"/><stop offset="0.5" stop-color="#241006"/><stop offset="1" stop-color="#160803"/></linearGradient><radialGradient id="p2spot"><stop offset="0" stop-color="#fffbe0"/><stop offset="0.35" stop-color="#ffd060"/><stop offset="0.7" stop-color="#e06a10" stop-opacity="0.8"/><stop offset="1" stop-color="#7a2006" stop-opacity="0"/></radialGradient><linearGradient id="p2plate" x1="0" y1="0" x2="0" y2="1"><stop offset="0" stop-color="#e08c10"/><stop offset="0.06" stop-color="#c47a18"/><stop offset="0.9" stop-color="#b87420"/><stop offset="1" stop-color="#d08a20"/></linearGradient><radialGradient id="vig2" cx="0.5" cy="0.5" r="0.75"><stop offset="0.55" stop-color="#4a2400" stop-opacity="0"/><stop offset="1" stop-color="#4a2400" stop-opacity="0.35"/></radialGradient><clipPath id="p2c"><rect x="829.8" y="1021.5" width="143.6" height="182.3"/></clipPath></defs>
<g clip-path="url(#p2c)"><g filter="url(#bl1)">
<rect x="826.6" y="1017.0" width="152.1" height="191.8" rx="0.0" fill="#ae6e1e"/>
<rect x="826.6" y="1017.0" width="152.1" height="25.6" rx="0.0" fill="#d6ac64"/>
<rect x="826.6" y="1017.0" width="34.7" height="25.6" rx="0.0" fill="#94621c"/>
<rect x="938.2" y="1017.0" width="40.5" height="25.6" rx="0.0" fill="#a06c20"/>
<rect x="826.6" y="1179.0" width="152.1" height="29.8" rx="0.0" fill="#b48a44"/>
<rect x="826.6" y="1179.8" width="36.7" height="28.9" rx="0.0" fill="#94682a"/>
<rect x="939.4" y="1179.8" width="39.4" height="28.9" rx="0.0" fill="#8c6024"/>
<rect x="826.6" y="1041.8" width="152.1" height="137.6" rx="0.0" fill="url(#p2plate)"/>
<rect x="829.9" y="1047.5" width="21.5" height="37.2" rx="0.0" fill="#cc862c"/>
<rect x="829.9" y="1084.8" width="17.4" height="56.2" rx="0.0" fill="#a06422"/>
<rect x="829.9" y="1141.0" width="21.5" height="36.4" rx="0.0" fill="#c07c24"/>
<rect x="953.9" y="1047.5" width="24.8" height="129.8" rx="0.0" fill="#bc7a22"/>
<rect x="955.6" y="1084.8" width="23.1" height="43.0" rx="0.0" fill="#b87420"/>
<circle cx="972.9" cy="1111.2" r="5.0" fill="#ffb028"/>
<circle cx="830.3" cy="1111.2" r="3.6" fill="#f0a030"/>
<rect x="851.7" y="1045.1" width="99.7" height="131.4" rx="2.0" fill="#d29236"/>
<rect x="854.7" y="1048.4" width="93.9" height="124.8" rx="1.7" fill="#ba7a26"/>
<rect x="867.1" y="1050.9" width="72.8" height="119.0" rx="1.7" fill="#c0822c"/>
<rect x="869.6" y="1053.3" width="68.1" height="114.1" rx="1.3" fill="#b27222"/>
<rect x="909.3" y="1045.1" width="16.5" height="3.6" rx="1.3" fill="#ffb838"/>
<circle cx="842.3" cy="1055.0" r="3.6" fill="#94551a"/>
<circle cx="842.3" cy="1055.0" r="2.0" fill="#5c300c"/>
<circle cx="960.5" cy="1054.2" r="3.6" fill="#94551a"/>
<circle cx="960.5" cy="1054.2" r="2.0" fill="#5c300c"/>
<circle cx="842.3" cy="1161.6" r="3.6" fill="#94551a"/>
<circle cx="842.3" cy="1161.6" r="2.0" fill="#5c300c"/>
<circle cx="960.5" cy="1162.5" r="3.6" fill="#94551a"/>
<circle cx="960.5" cy="1162.5" r="2.0" fill="#5c300c"/>
<rect x="877.5" y="1064.6" width="45.3" height="91.6" rx="6.3" fill="url(#p2dev)"/>
<rect x="882.8" y="1076.8" width="36.4" height="2.3" rx="0.0" fill="#5a3414"/>
<rect x="882.8" y="1142.3" width="36.4" height="2.3" rx="0.0" fill="#4a2a10"/>
<rect x="919.2" y="1077.3" width="13.2" height="1.7" rx="0.0" fill="#d89838"/>
<circle cx="914.6" cy="1096.0" r="10.3" fill="url(#p2spot)"/>
<rect x="908.6" y="1089.1" width="11.9" height="12.6" rx="1.0" fill="#ffe890"/>
<rect x="910.3" y="1090.7" width="8.9" height="9.3" rx="0.7" fill="#fffbe4"/>
</g><rect x="826.6" y="1017.0" width="152.1" height="191.8" rx="0.0" fill="url(#vig2)"/></g>
<text x="816.7" y="995.2" font-size="36" class="b" style="fill:#000;stroke:#000;stroke-width:0.4px;letter-spacing:1.6px">Phox-<tspan font-size="24.5" dy="-12.5" dx="-1.5" style="letter-spacing:0">Me</tspan></text>
<text transform="translate(960.5 995.2) scale(1.14 1)" font-size="36" class="pi" style="fill:#000;stroke:#000;stroke-width:1.5px">π</text>
<text x="807.7" y="1263.7" font-size="36" class="b" style="fill:#000;stroke:#000;stroke-width:0.4px;letter-spacing:1.6px">Phox-<tspan font-size="24.5" dy="-12.5" dx="-1.5" style="letter-spacing:0">MeO</tspan></text>
<text transform="translate(971 1263.7) scale(1.14 1)" font-size="36" class="pi" style="fill:#000;stroke:#000;stroke-width:1.5px">π</text>
<text x="0" y="1419.5" font-size="32" text-anchor="start">(c)</text>
<clipPath id="cc"><rect x="159.8" y="1443.4" width="570.2" height="428.0999999999999"/></clipPath>
<g clip-path="url(#cc)" fill="#ffa500">
<path d="M162.0 1624.8 L183.3 1592.7 L209.4 1571.9 L229.4 1561.4 L250.2 1530.1 L267.7 1530.1 L284.8 1521.3 L301.0 1518.8 L317.8 1517.1 L333.4 1515.1 L348.4 1515.1 L362.4 1512.6 L375.5 1516.3 L388.7 1518.8 L402.0 1519.6 L415.0 1522.1 L427.1 1524.6 L438.8 1528.8 L450.9 1532.1 L462.6 1535.6 L473.9 1540.1 L484.7 1544.6 L494.7 1548.9 L504.7 1553.4 L514.7 1558.2 L524.5 1563.2 L534.0 1567.7 L543.3 1572.7 L552.8 1577.2 L561.8 1582.2 L570.9 1587.2 L579.9 1592.2 L587.2 1597.5 L594.3 1602.4 L601.2 1606.8 L607.7 1611.1 L614.0 1615.2 L620.0 1619.1 L625.8 1622.7 L631.4 1626.1 L636.6 1629.6 L641.4 1633.0 L646.1 1636.3 L650.4 1639.6 L654.4 1642.8 L658.3 1646.0 L661.9 1649.1 L665.2 1652.1 L668.3 1655.1 L671.2 1658.1 L673.9 1661.0 L676.4 1663.7 L678.8 1666.4 L681.1 1668.9 L683.3 1671.4 L685.4 1673.7 L687.4 1676.0 L689.3 1678.1 L691.1 1680.2 L690.7 1692.0 L692.8 1694.1 L695.1 1696.2 L697.5 1698.2 L700.0 1700.0 L702.7 1701.7 L705.6 1703.4 L708.4 1705.2 L711.3 1707.0 L714.1 1709.0 L717.0 1711.0 L720.0 1713.0 L722.9 1715.2 L725.9 1717.3 L729.0 1719.5 L732.2 1721.7 L735.3 1724.0" fill="none" stroke="#ffa500" stroke-width="2.2"/>
<path d="M162.0 1618.0l6.5 6.8l-6.5 6.8l-6.5 -6.8zM183.3 1585.9l6.5 6.8l-6.5 6.8l-6.5 -6.8zM209.4 1565.1l6.5 6.8l-6.5 6.8l-6.5 -6.8zM229.4 1554.6l6.5 6.8l-6.5 6.8l-6.5 -6.8zM250.2 1523.3l6.5 6.8l-6.5 6.8l-6.5 -6.8zM267.7 1523.3l6.5 6.8l-6.5 6.8l-6.5 -6.8zM284.8 1514.5l6.5 6.8l-6.5 6.8l-6.5 -6.8zM301.0 1512.0l6.5 6.8l-6.5 6.8l-6.5 -6.8zM317.8 1510.3l6.5 6.8l-6.5 6.8l-6.5 -6.8zM333.4 1508.3l6.5 6.8l-6.5 6.8l-6.5 -6.8zM348.4 1508.3l6.5 6.8l-6.5 6.8l-6.5 -6.8zM362.4 1505.8l6.5 6.8l-6.5 6.8l-6.5 -6.8zM375.5 1509.5l6.5 6.8l-6.5 6.8l-6.5 -6.8zM388.7 1512.0l6.5 6.8l-6.5 6.8l-6.5 -6.8zM402.0 1512.8l6.5 6.8l-6.5 6.8l-6.5 -6.8zM415.0 1515.3l6.5 6.8l-6.5 6.8l-6.5 -6.8zM427.1 1517.8l6.5 6.8l-6.5 6.8l-6.5 -6.8zM438.8 1522.0l6.5 6.8l-6.5 6.8l-6.5 -6.8zM450.9 1525.3l6.5 6.8l-6.5 6.8l-6.5 -6.8zM462.6 1528.8l6.5 6.8l-6.5 6.8l-6.5 -6.8zM473.9 1533.3l6.5 6.8l-6.5 6.8l-6.5 -6.8zM484.7 1537.8l6.5 6.8l-6.5 6.8l-6.5 -6.8zM494.7 1542.1l6.5 6.8l-6.5 6.8l-6.5 -6.8zM504.7 1546.6l6.5 6.8l-6.5 6.8l-6.5 -6.8zM514.7 1551.4l6.5 6.8l-6.5 6.8l-6.5 -6.8zM524.5 1556.4l6.5 6.8l-6.5 6.8l-6.5 -6.8zM534.0 1560.9l6.5 6.8l-6.5 6.8l-6.5 -6.8zM543.3 1565.9l6.5 6.8l-6.5 6.8l-6.5 -6.8zM552.8 1570.4l6.5 6.8l-6.5 6.8l-6.5 -6.8zM561.8 1575.4l6.5 6.8l-6.5 6.8l-6.5 -6.8zM570.9 1580.4l6.5 6.8l-6.5 6.8l-6.5 -6.8zM579.9 1585.4l6.5 6.8l-6.5 6.8l-6.5 -6.8zM587.2 1590.7l6.5 6.8l-6.5 6.8l-6.5 -6.8zM594.3 1595.6l6.5 6.8l-6.5 6.8l-6.5 -6.8zM601.2 1600.0l6.5 6.8l-6.5 6.8l-6.5 -6.8zM607.7 1604.3l6.5 6.8l-6.5 6.8l-6.5 -6.8zM614.0 1608.4l6.5 6.8l-6.5 6.8l-6.5 -6.8zM620.0 1612.3l6.5 6.8l-6.5 6.8l-6.5 -6.8zM625.8 1615.9l6.5 6.8l-6.5 6.8l-6.5 -6.8zM631.4 1619.3l6.5 6.8l-6.5 6.8l-6.5 -6.8zM636.6 1622.8l6.5 6.8l-6.5 6.8l-6.5 -6.8zM641.4 1626.2l6.5 6.8l-6.5 6.8l-6.5 -6.8zM646.1 1629.5l6.5 6.8l-6.5 6.8l-6.5 -6.8zM650.4 1632.8l6.5 6.8l-6.5 6.8l-6.5 -6.8zM654.4 1636.0l6.5 6.8l-6.5 6.8l-6.5 -6.8zM658.3 1639.2l6.5 6.8l-6.5 6.8l-6.5 -6.8zM661.9 1642.3l6.5 6.8l-6.5 6.8l-6.5 -6.8zM665.2 1645.3l6.5 6.8l-6.5 6.8l-6.5 -6.8zM668.3 1648.3l6.5 6.8l-6.5 6.8l-6.5 -6.8zM671.2 1651.3l6.5 6.8l-6.5 6.8l-6.5 -6.8zM673.9 1654.2l6.5 6.8l-6.5 6.8l-6.5 -6.8zM676.4 1656.9l6.5 6.8l-6.5 6.8l-6.5 -6.8zM678.8 1659.6l6.5 6.8l-6.5 6.8l-6.5 -6.8zM681.1 1662.1l6.5 6.8l-6.5 6.8l-6.5 -6.8zM683.3 1664.6l6.5 6.8l-6.5 6.8l-6.5 -6.8zM685.4 1666.9l6.5 6.8l-6.5 6.8l-6.5 -6.8zM687.4 1669.2l6.5 6.8l-6.5 6.8l-6.5 -6.8zM689.3 1671.3l6.5 6.8l-6.5 6.8l-6.5 -6.8zM691.1 1673.4l6.5 6.8l-6.5 6.8l-6.5 -6.8zM690.7 1685.2l6.5 6.8l-6.5 6.8l-6.5 -6.8zM692.8 1687.3l6.5 6.8l-6.5 6.8l-6.5 -6.8zM695.1 1689.4l6.5 6.8l-6.5 6.8l-6.5 -6.8zM697.5 1691.4l6.5 6.8l-6.5 6.8l-6.5 -6.8zM700.0 1693.2l6.5 6.8l-6.5 6.8l-6.5 -6.8zM702.7 1694.9l6.5 6.8l-6.5 6.8l-6.5 -6.8zM705.6 1696.6l6.5 6.8l-6.5 6.8l-6.5 -6.8zM708.4 1698.4l6.5 6.8l-6.5 6.8l-6.5 -6.8zM711.3 1700.2l6.5 6.8l-6.5 6.8l-6.5 -6.8zM714.1 1702.2l6.5 6.8l-6.5 6.8l-6.5 -6.8zM717.0 1704.2l6.5 6.8l-6.5 6.8l-6.5 -6.8zM720.0 1706.2l6.5 6.8l-6.5 6.8l-6.5 -6.8zM722.9 1708.4l6.5 6.8l-6.5 6.8l-6.5 -6.8zM725.9 1710.5l6.5 6.8l-6.5 6.8l-6.5 -6.8zM729.0 1712.7l6.5 6.8l-6.5 6.8l-6.5 -6.8zM732.2 1714.9l6.5 6.8l-6.5 6.8l-6.5 -6.8zM735.3 1717.2l6.5 6.8l-6.5 6.8l-6.5 -6.8z"/>
</g>
<g clip-path="url(#cc)" fill="#ff0000">
<path d="M162.0 1688.7 L185.0 1672.9 L201.9 1667.9 L218.9 1654.6 L233.9 1662.1 L249.4 1650.3 L267.2 1644.8 L280.8 1639.1 L294.5 1636.6 L308.3 1637.3 L322.3 1635.3 L335.4 1634.8 L347.9 1639.1 L360.4 1638.3 L372.4 1641.6 L384.2 1644.1 L396.3 1644.1 L407.5 1647.3 L419.6 1649.1 L430.6 1650.8 L442.1 1653.3 L453.1 1654.1 L464.6 1658.4 L475.9 1659.9 L487.2 1662.9 L498.2 1665.9 L509.0 1668.4 L520.3 1671.6 L531.0 1675.4 L542.1 1679.1 L552.3 1682.4 L562.8 1686.7 L572.9 1690.4 L582.9 1694.2 L592.4 1697.4 L599.6 1704.0 L606.8 1708.3 L613.7 1712.3 L620.2 1715.9 L626.2 1719.4 L631.4 1723.5 L636.1 1727.4 L640.5 1731.1 L644.5 1734.8 L648.1 1738.3 L651.4 1741.8 L654.3 1745.2 L656.9 1748.5 L659.2 1751.7 L661.2 1754.8 L663.1 1757.7 L664.9 1760.4 L666.5 1763.0 L668.0 1765.4 L669.3 1767.8 L670.4 1770.0 L671.4 1772.2 L672.3 1774.2 L669.8 1782.2 L681.0 1787.0" fill="none" stroke="#ff0000" stroke-width="2.2"/>
<path d="M157.2 1688.7a4.8 4.8 0 1 0 9.6 0a4.8 4.8 0 1 0 -9.6 0zM180.2 1672.9a4.8 4.8 0 1 0 9.6 0a4.8 4.8 0 1 0 -9.6 0zM197.1 1667.9a4.8 4.8 0 1 0 9.6 0a4.8 4.8 0 1 0 -9.6 0zM214.1 1654.6a4.8 4.8 0 1 0 9.6 0a4.8 4.8 0 1 0 -9.6 0zM229.1 1662.1a4.8 4.8 0 1 0 9.6 0a4.8 4.8 0 1 0 -9.6 0zM244.6 1650.3a4.8 4.8 0 1 0 9.6 0a4.8 4.8 0 1 0 -9.6 0zM262.4 1644.8a4.8 4.8 0 1 0 9.6 0a4.8 4.8 0 1 0 -9.6 0zM276.0 1639.1a4.8 4.8 0 1 0 9.6 0a4.8 4.8 0 1 0 -9.6 0zM289.7 1636.6a4.8 4.8 0 1 0 9.6 0a4.8 4.8 0 1 0 -9.6 0zM303.5 1637.3a4.8 4.8 0 1 0 9.6 0a4.8 4.8 0 1 0 -9.6 0zM317.5 1635.3a4.8 4.8 0 1 0 9.6 0a4.8 4.8 0 1 0 -9.6 0zM330.6 1634.8a4.8 4.8 0 1 0 9.6 0a4.8 4.8 0 1 0 -9.6 0zM343.1 1639.1a4.8 4.8 0 1 0 9.6 0a4.8 4.8 0 1 0 -9.6 0zM355.6 1638.3a4.8 4.8 0 1 0 9.6 0a4.8 4.8 0 1 0 -9.6 0zM367.6 1641.6a4.8 4.8 0 1 0 9.6 0a4.8 4.8 0 1 0 -9.6 0zM379.4 1644.1a4.8 4.8 0 1 0 9.6 0a4.8 4.8 0 1 0 -9.6 0zM391.5 1644.1a4.8 4.8 0 1 0 9.6 0a4.8 4.8 0 1 0 -9.6 0zM402.7 1647.3a4.8 4.8 0 1 0 9.6 0a4.8 4.8 0 1 0 -9.6 0zM414.8 1649.1a4.8 4.8 0 1 0 9.6 0a4.8 4.8 0 1 0 -9.6 0zM425.8 1650.8a4.8 4.8 0 1 0 9.6 0a4.8 4.8 0 1 0 -9.6 0zM437.3 1653.3a4.8 4.8 0 1 0 9.6 0a4.8 4.8 0 1 0 -9.6 0zM448.3 1654.1a4.8 4.8 0 1 0 9.6 0a4.8 4.8 0 1 0 -9.6 0zM459.8 1658.4a4.8 4.8 0 1 0 9.6 0a4.8 4.8 0 1 0 -9.6 0zM471.1 1659.9a4.8 4.8 0 1 0 9.6 0a4.8 4.8 0 1 0 -9.6 0zM482.4 1662.9a4.8 4.8 0 1 0 9.6 0a4.8 4.8 0 1 0 -9.6 0zM493.4 1665.9a4.8 4.8 0 1 0 9.6 0a4.8 4.8 0 1 0 -9.6 0zM504.2 1668.4a4.8 4.8 0 1 0 9.6 0a4.8 4.8 0 1 0 -9.6 0zM515.5 1671.6a4.8 4.8 0 1 0 9.6 0a4.8 4.8 0 1 0 -9.6 0zM526.2 1675.4a4.8 4.8 0 1 0 9.6 0a4.8 4.8 0 1 0 -9.6 0zM537.3 1679.1a4.8 4.8 0 1 0 9.6 0a4.8 4.8 0 1 0 -9.6 0zM547.5 1682.4a4.8 4.8 0 1 0 9.6 0a4.8 4.8 0 1 0 -9.6 0zM558.0 1686.7a4.8 4.8 0 1 0 9.6 0a4.8 4.8 0 1 0 -9.6 0zM568.1 1690.4a4.8 4.8 0 1 0 9.6 0a4.8 4.8 0 1 0 -9.6 0zM578.1 1694.2a4.8 4.8 0 1 0 9.6 0a4.8 4.8 0 1 0 -9.6 0zM587.6 1697.4a4.8 4.8 0 1 0 9.6 0a4.8 4.8 0 1 0 -9.6 0zM594.8 1704.0a4.8 4.8 0 1 0 9.6 0a4.8 4.8 0 1 0 -9.6 0zM602.0 1708.3a4.8 4.8 0 1 0 9.6 0a4.8 4.8 0 1 0 -9.6 0zM608.9 1712.3a4.8 4.8 0 1 0 9.6 0a4.8 4.8 0 1 0 -9.6 0zM615.4 1715.9a4.8 4.8 0 1 0 9.6 0a4.8 4.8 0 1 0 -9.6 0zM621.4 1719.4a4.8 4.8 0 1 0 9.6 0a4.8 4.8 0 1 0 -9.6 0zM626.6 1723.5a4.8 4.8 0 1 0 9.6 0a4.8 4.8 0 1 0 -9.6 0zM631.3 1727.4a4.8 4.8 0 1 0 9.6 0a4.8 4.8 0 1 0 -9.6 0zM635.7 1731.1a4.8 4.8 0 1 0 9.6 0a4.8 4.8 0 1 0 -9.6 0zM639.7 1734.8a4.8 4.8 0 1 0 9.6 0a4.8 4.8 0 1 0 -9.6 0zM643.3 1738.3a4.8 4.8 0 1 0 9.6 0a4.8 4.8 0 1 0 -9.6 0zM646.6 1741.8a4.8 4.8 0 1 0 9.6 0a4.8 4.8 0 1 0 -9.6 0zM649.5 1745.2a4.8 4.8 0 1 0 9.6 0a4.8 4.8 0 1 0 -9.6 0zM652.1 1748.5a4.8 4.8 0 1 0 9.6 0a4.8 4.8 0 1 0 -9.6 0zM654.4 1751.7a4.8 4.8 0 1 0 9.6 0a4.8 4.8 0 1 0 -9.6 0zM656.4 1754.8a4.8 4.8 0 1 0 9.6 0a4.8 4.8 0 1 0 -9.6 0zM658.3 1757.7a4.8 4.8 0 1 0 9.6 0a4.8 4.8 0 1 0 -9.6 0zM660.1 1760.4a4.8 4.8 0 1 0 9.6 0a4.8 4.8 0 1 0 -9.6 0zM661.7 1763.0a4.8 4.8 0 1 0 9.6 0a4.8 4.8 0 1 0 -9.6 0zM663.2 1765.4a4.8 4.8 0 1 0 9.6 0a4.8 4.8 0 1 0 -9.6 0zM664.5 1767.8a4.8 4.8 0 1 0 9.6 0a4.8 4.8 0 1 0 -9.6 0zM665.6 1770.0a4.8 4.8 0 1 0 9.6 0a4.8 4.8 0 1 0 -9.6 0zM666.6 1772.2a4.8 4.8 0 1 0 9.6 0a4.8 4.8 0 1 0 -9.6 0zM667.5 1774.2a4.8 4.8 0 1 0 9.6 0a4.8 4.8 0 1 0 -9.6 0zM665.0 1782.2a4.8 4.8 0 1 0 9.6 0a4.8 4.8 0 1 0 -9.6 0zM676.2 1787.0a4.8 4.8 0 1 0 9.6 0a4.8 4.8 0 1 0 -9.6 0z"/>
</g>
<g stroke="#222" stroke-width="2.2" fill="none">
<rect x="159.8" y="1443.4" width="570.2" height="428.0999999999999" stroke-width="2.8"/>
<line x1="150.3" y1="1802.6" x2="159.8" y2="1802.6"/>
<line x1="150.3" y1="1730.8" x2="159.8" y2="1730.8"/>
<line x1="150.3" y1="1659.0" x2="159.8" y2="1659.0"/>
<line x1="150.3" y1="1587.2" x2="159.8" y2="1587.2"/>
<line x1="150.3" y1="1515.4" x2="159.8" y2="1515.4"/>
<line x1="150.3" y1="1443.6" x2="159.8" y2="1443.6"/>
<line x1="159.8" y1="1871.5" x2="159.8" y2="1881.5"/>
<line x1="349.9" y1="1871.5" x2="349.9" y2="1881.5"/>
<line x1="539.9" y1="1871.5" x2="539.9" y2="1881.5"/>
<line x1="730.0" y1="1871.5" x2="730.0" y2="1881.5"/>
</g><g stroke="#222" stroke-width="1.6" fill="none">
<line x1="217.0" y1="1871.5" x2="217.0" y2="1876.5"/>
<line x1="250.5" y1="1871.5" x2="250.5" y2="1876.5"/>
<line x1="274.2" y1="1871.5" x2="274.2" y2="1876.5"/>
<line x1="292.7" y1="1871.5" x2="292.7" y2="1876.5"/>
<line x1="307.7" y1="1871.5" x2="307.7" y2="1876.5"/>
<line x1="320.4" y1="1871.5" x2="320.4" y2="1876.5"/>
<line x1="331.4" y1="1871.5" x2="331.4" y2="1876.5"/>
<line x1="341.2" y1="1871.5" x2="341.2" y2="1876.5"/>
<line x1="407.1" y1="1871.5" x2="407.1" y2="1876.5"/>
<line x1="440.6" y1="1871.5" x2="440.6" y2="1876.5"/>
<line x1="464.3" y1="1871.5" x2="464.3" y2="1876.5"/>
<line x1="482.7" y1="1871.5" x2="482.7" y2="1876.5"/>
<line x1="497.8" y1="1871.5" x2="497.8" y2="1876.5"/>
<line x1="510.5" y1="1871.5" x2="510.5" y2="1876.5"/>
<line x1="521.5" y1="1871.5" x2="521.5" y2="1876.5"/>
<line x1="531.2" y1="1871.5" x2="531.2" y2="1876.5"/>
<line x1="597.1" y1="1871.5" x2="597.1" y2="1876.5"/>
<line x1="630.6" y1="1871.5" x2="630.6" y2="1876.5"/>
<line x1="654.4" y1="1871.5" x2="654.4" y2="1876.5"/>
<line x1="672.8" y1="1871.5" x2="672.8" y2="1876.5"/>
<line x1="687.8" y1="1871.5" x2="687.8" y2="1876.5"/>
<line x1="700.6" y1="1871.5" x2="700.6" y2="1876.5"/>
<line x1="711.6" y1="1871.5" x2="711.6" y2="1876.5"/>
<line x1="721.3" y1="1871.5" x2="721.3" y2="1876.5"/>
</g>
<text x="140" y="1812.6" font-size="29" text-anchor="end" class="tk">2</text>
<text x="140" y="1740.8" font-size="29" text-anchor="end" class="tk">4</text>
<text x="140" y="1669.0" font-size="29" text-anchor="end" class="tk">6</text>
<text x="140" y="1597.2" font-size="29" text-anchor="end" class="tk">8</text>
<text x="140" y="1525.4" font-size="29" text-anchor="end" class="tk">10</text>
<text x="140" y="1453.6" font-size="29" text-anchor="end" class="tk">12</text>
<text x="138.3" y="1924.5" font-size="29" class="tk">10<tspan class="dj" font-size="20.5" dy="-21" dx="-0.5">0</tspan></text>
<text x="328.4" y="1924.5" font-size="29" class="tk">10<tspan class="dj" font-size="20.5" dy="-21" dx="-0.5">1</tspan></text>
<text x="518.4" y="1924.5" font-size="29" class="tk">10<tspan class="dj" font-size="20.5" dy="-21" dx="-0.5">2</tspan></text>
<text x="708.5" y="1924.5" font-size="29" class="tk">10<tspan class="dj" font-size="20.5" dy="-21" dx="-0.5">3</tspan></text>
<text x="294" y="1971" font-size="33">Luminance (cd m<tspan class="dj" font-size="20.5" dy="-10.5" dx="1.5">−2</tspan><tspan dy="10.5" dx="5.5">)</tspan></text>
<text transform="translate(61 1656.5) rotate(-90)" font-size="32.5" text-anchor="middle">EQE (%)</text>
<line x1="266" y1="1745" x2="300" y2="1745" stroke="#ffa500" stroke-width="2.4"/><path d="M283 1738.2l6.5 6.8l-6.5 6.8l-6.5 -6.8z" fill="#ffa500"/>
<line x1="266" y1="1795" x2="300" y2="1795" stroke="#ff0000" stroke-width="2.4"/><circle cx="283" cy="1795" r="4.8" fill="#ff0000"/>
<text x="311" y="1756" font-size="32">Phox-<tspan class="dj" font-size="22.5" dy="-13.1" dx="2.5">Me</tspan><tspan class="pi" font-size="32" dy="13.1" dx="3.5">π</tspan></text>
<text x="311" y="1806" font-size="32">Phox-<tspan class="dj" font-size="22.5" dy="-13.1" dx="2.5">MeO</tspan><tspan class="pi" font-size="32" dy="13.1" dx="3.5">π</tspan></text>
</svg></body></html>
